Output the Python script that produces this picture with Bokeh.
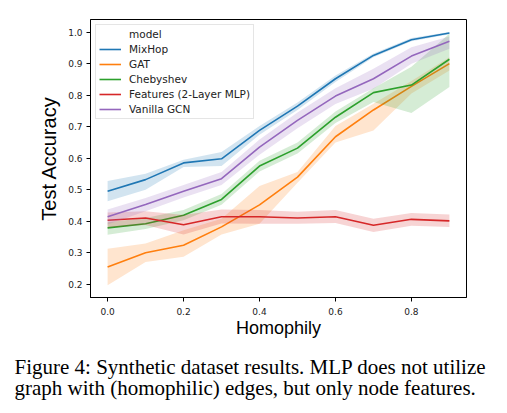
from bokeh.plotting import figure
from bokeh.models import Range1d, Legend, LegendItem, FixedTicker, PrintfTickFormatter, Title
from bokeh.embed import file_html
from bokeh.resources import INLINE

# homophily levels
homophily = [0.0, 0.1, 0.2, 0.3, 0.4, 0.5, 0.6, 0.7, 0.8, 0.9]

# mean test accuracy and band (lo / hi) per model
mixhop = [0.495, 0.532, 0.585, 0.598, 0.688, 0.765, 0.852, 0.926, 0.976, 0.997]
mixhop_lo = [0.463, 0.500, 0.572, 0.575, 0.674, 0.753, 0.842, 0.920, 0.971, 0.993]
mixhop_hi = [0.528, 0.551, 0.595, 0.620, 0.702, 0.777, 0.862, 0.932, 0.981, 1.000]

gat = [0.255, 0.300, 0.324, 0.382, 0.452, 0.540, 0.668, 0.753, 0.828, 0.900]
gat_lo = [0.197, 0.271, 0.287, 0.358, 0.392, 0.522, 0.650, 0.688, 0.805, 0.878]
gat_hi = [0.313, 0.329, 0.371, 0.408, 0.512, 0.556, 0.702, 0.773, 0.845, 0.920]

cheb = [0.379, 0.392, 0.419, 0.469, 0.575, 0.632, 0.730, 0.808, 0.832, 0.914]
cheb_lo = [0.357, 0.375, 0.403, 0.452, 0.558, 0.615, 0.712, 0.778, 0.743, 0.826]
cheb_hi = [0.397, 0.410, 0.436, 0.486, 0.592, 0.650, 0.748, 0.822, 0.890, 0.995]

feat = [0.403, 0.410, 0.389, 0.414, 0.414, 0.410, 0.414, 0.387, 0.406, 0.401]
feat_lo = [0.380, 0.388, 0.358, 0.393, 0.392, 0.392, 0.394, 0.366, 0.386, 0.382]
feat_hi = [0.428, 0.432, 0.420, 0.437, 0.436, 0.430, 0.436, 0.408, 0.426, 0.421]

gcn = [0.414, 0.453, 0.495, 0.535, 0.635, 0.720, 0.797, 0.852, 0.924, 0.971]
gcn_lo = [0.390, 0.432, 0.475, 0.515, 0.611, 0.695, 0.772, 0.820, 0.900, 0.947]
gcn_hi = [0.437, 0.474, 0.515, 0.556, 0.659, 0.745, 0.822, 0.884, 0.952, 0.986]

names = ["MixHop", "GAT", "Chebyshev", "Features (2-Layer MLP)", "Vanilla GCN"]
colors = ["#1f77b4", "#ff7f0e", "#2ca02c", "#d62728", "#9467bd"]
series = [(mixhop, mixhop_lo, mixhop_hi), (gat, gat_lo, gat_hi), (cheb, cheb_lo, cheb_hi),
          (feat, feat_lo, feat_hi), (gcn, gcn_lo, gcn_hi)]

caption = ("Figure 4: Synthetic dataset results. MLP does not utilize\n"
           "graph with (homophilic) edges, but only node features.")

# fixed frame size so the caption below cannot squeeze the axes
p = figure(frame_width=376, frame_height=278,
           x_range=Range1d(-0.045, 0.945), y_range=Range1d(0.158, 1.04),
           output_backend="svg", toolbar_location=None,
           min_border_left=90, min_border_right=25, min_border_top=19, min_border_bottom=90)
p.grid.visible = False
p.outline_line_color = "black"
p.outline_line_width = 1
p.background_fill_color = "white"
p.border_fill_color = "white"

# bands then lines, in seaborn's drawing order
items = []
header = p.line([0], [0.5], line_alpha=0)
items.append(LegendItem(label="model", renderers=[header]))
for name, col, (m, lo, hi) in zip(names, colors, series):
    p.varea(x=homophily, y1=lo, y2=hi, fill_color=col, fill_alpha=0.2)
    r = p.line(homophily, m, line_color=col, line_width=1.6)
    items.append(LegendItem(label=name, renderers=[r]))

legend = Legend(items=items, location="top_left")
legend.label_text_font = "DejaVu Sans"
legend.label_text_font_size = "10.5px"
legend.label_text_color = "#222222"
legend.glyph_width = 22
legend.glyph_height = 12
legend.label_height = 12
legend.spacing = 3
legend.label_standoff = 8
legend.padding = 3
legend.margin = 5
legend.border_line_color = "#cccccc"
legend.border_line_width = 1
legend.background_fill_alpha = 0.8
p.add_layout(legend)

# axes
p.xaxis.ticker = FixedTicker(ticks=[0.0, 0.2, 0.4, 0.6, 0.8])
p.yaxis.ticker = FixedTicker(ticks=[0.2, 0.3, 0.4, 0.5, 0.6, 0.7, 0.8, 0.9, 1.0])
p.axis.formatter = PrintfTickFormatter(format="%.1f")
p.axis.minor_tick_line_color = None
p.axis.major_tick_in = 0
p.axis.major_tick_out = 4
p.axis.major_tick_line_color = "black"
p.axis.axis_line_color = "black"
p.axis.major_label_text_font = "DejaVu Sans"
p.axis.major_label_text_font_size = "9px"
p.axis.major_label_text_color = "#222222"
p.xaxis.major_label_standoff = 6
p.yaxis.major_label_standoff = 4
p.xaxis.axis_label = "Homophily"
p.yaxis.axis_label = "Test Accuracy"
p.axis.axis_label_text_font = "Liberation Sans"
p.axis.axis_label_text_font_style = "normal"
p.axis.axis_label_text_color = "black"
p.xaxis.axis_label_text_font_size = "18px"
p.yaxis.axis_label_text_font_size = "20px"
p.xaxis.axis_label_standoff = 0
p.yaxis.axis_label_standoff = 5

# figure caption under the chart
cap = Title(text=caption, align="left", offset=-76, standoff=26,
            text_font="Liberation Serif", text_font_size="21px", text_line_height=0.88,
            text_font_style="normal", text_color="black")
p.add_layout(cap, "below")

open("out.html", "w").write(file_html(p, INLINE))
